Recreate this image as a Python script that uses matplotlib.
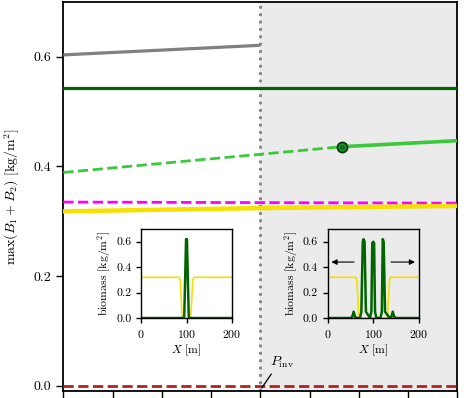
import matplotlib
matplotlib.use("Agg")
import matplotlib.pyplot as plt

plt.rcParams['font.family'] = 'serif'
plt.rcParams['font.serif'] = ['cmr10', 'DejaVu Serif']
plt.rcParams['mathtext.fontset'] = 'cm'
plt.rcParams['axes.formatter.use_mathtext'] = True
plt.rcParams['font.size'] = 10

# ---- main chart data ----
p_inv = 4.0
gray_x = [0, 4]
gray_y = [0.6035, 0.621]
dkgreen_x = [0, 8]
dkgreen_y = [0.543, 0.543]
ltgreen_dash_x = [0, 5.66]
ltgreen_dash_y = [0.389, 0.436]
ltgreen_solid_x = [5.66, 8]
ltgreen_solid_y = [0.436, 0.447]
marker_x = [5.66]
marker_y = [0.436]
magenta_x = [0, 8]
magenta_y = [0.335, 0.333]
yellow_x = [0, 4, 8]
yellow_y = [0.318, 0.324, 0.328]
red_x = [0, 8]
red_y = [0.0, 0.0]
yticks = [0.0, 0.2, 0.4, 0.6]
ytick_labels = ['0.0', '0.2', '0.4', '0.6']
xticks = [0, 1, 2, 3, 4, 5, 6, 7, 8]

# ---- inset 1 profiles ----
in1_yel_x = [0, 84, 86, 88, 90, 92, 108, 110, 112, 114, 117, 200]
in1_yel_y = [0.32, 0.32, 0.30, 0.18, 0.04, 0.0, 0.0, 0.04, 0.18, 0.30, 0.32, 0.32]
in1_grn_x = [0, 92, 95, 97, 99, 101, 103, 105, 108, 200]
in1_grn_y = [0.0, 0.0, 0.01, 0.30, 0.62, 0.62, 0.30, 0.01, 0.0, 0.0]

# ---- inset 2 profiles ----
in2_yel_x = [0, 62, 64, 66, 68, 70, 130, 132, 134, 136, 138, 200]
in2_yel_y = [0.32, 0.32, 0.30, 0.18, 0.04, 0.0, 0.0, 0.04, 0.18, 0.30, 0.32, 0.32]
in2_grn_x = [0, 50, 54, 57, 60, 64, 71, 74, 77, 79, 81, 84, 93, 96, 98, 100, 102, 104, 107,
             116, 119, 121, 123, 126, 136, 140, 143, 146, 150, 200]
in2_grn_y = [0.0, 0.0, 0.01, 0.05, 0.01, 0.0, 0.0, 0.05, 0.60, 0.62, 0.60, 0.05, 0.0, 0.05,
             0.59, 0.60, 0.59, 0.05, 0.0, 0.0, 0.05, 0.62, 0.60, 0.05, 0.0, 0.01, 0.05, 0.01,
             0.0, 0.0]
arrow_y = 0.44
arrow_left = (64, 2)
arrow_right = (133, 198)

fig = plt.figure(figsize=(4.74, 3.98), dpi=100)
ax = fig.add_axes([63.3 / 474, 1 - 391 / 398, 394 / 474, 389 / 398])

ax.axvspan(p_inv, 8, color='#ebebeb', zorder=0, lw=0)
ax.axvline(p_inv, color='#808080', ls=':', lw=2, zorder=1)

ax.plot(gray_x, gray_y, color='#808080', lw=2.3, solid_capstyle='butt', zorder=3)
ax.plot(dkgreen_x, dkgreen_y, color='#006400', lw=2.3, zorder=3)
ax.plot(ltgreen_dash_x, ltgreen_dash_y, color='#3cc83c', lw=2.0, ls='--', zorder=3)
ax.plot(ltgreen_solid_x, ltgreen_solid_y, color='#3cc83c', lw=2.6, zorder=3)
ax.plot(marker_x, marker_y, 'o', ms=7.5, mfc='#11701a', mec='#053305', mew=1.0, zorder=5)
ax.plot(marker_x, marker_y, 'o', ms=4.5, mfc='none', mec='#2a9a2a', mew=0.6, zorder=6)
ax.plot(magenta_x, magenta_y, color='#ff00ff', lw=2.0, ls='--', zorder=3)
ax.plot(yellow_x, yellow_y, color='#f5e000', lw=3.2, zorder=3)
ax.plot(red_x, red_y, color='#b22222', lw=2.0, ls='--', zorder=3)

ax.set_xlim(0, 8)
ax.set_ylim(-0.0097, 0.70)
ax.set_yticks(yticks)
ax.set_yticklabels(ytick_labels)
ax.set_xticks(xticks)
ax.set_xticklabels([])
ax.tick_params(direction='out', length=5, width=1, labelsize=10)
for s in ax.spines.values():
    s.set_linewidth(1.3)
ax.set_ylabel(r'$\max(B_1+B_2)$ [kg/m$^2$]', fontsize=10)
ax.yaxis.set_label_coords(-0.105, 0.5)

ax.annotate('', xy=(p_inv, -0.008), xytext=(4.256, 0.0255),
            arrowprops=dict(arrowstyle='-', color='black', lw=0.9))
ax.text(4.445, 0.043, r'$P_{\rm inv}$', ha='center', va='center', fontsize=10)

def make_inset(pos, yx, yy, gx, gy):
    a = fig.add_axes(pos)
    a.set_facecolor('none')
    a.plot(yx, yy, color='#f5e000', lw=1.2)
    a.plot(gx, gy, color='#006400', lw=1.8)
    a.set_xlim(0, 200)
    a.set_ylim(0, 0.70)
    a.set_xticks([0, 100, 200])
    a.set_yticks([0.0, 0.2, 0.4, 0.6])
    a.set_yticklabels(['0.0', '0.2', '0.4', '0.6'])
    a.tick_params(direction='out', length=3.5, width=1, labelsize=8.5)
    for s in a.spines.values():
        s.set_linewidth(1.0)
    a.set_xlabel(r'$X$ [m]', labelpad=2, fontsize=8.5)
    a.set_ylabel(r'biomass [kg/m$^2$]', labelpad=2, fontsize=8.5)
    return a

in1 = make_inset([141 / 474, 1 - 318 / 398, 91 / 474, 89 / 398],
                 in1_yel_x, in1_yel_y, in1_grn_x, in1_grn_y)
in2 = make_inset([327.7 / 474, 1 - 318 / 398, 91 / 474, 89 / 398],
                 in2_yel_x, in2_yel_y, in2_grn_x, in2_grn_y)
in2.annotate('', xy=(arrow_left[1], arrow_y), xytext=(arrow_left[0], arrow_y),
             arrowprops=dict(arrowstyle='-|>', color='black', lw=0.8, mutation_scale=8))
in2.annotate('', xy=(arrow_right[1], arrow_y), xytext=(arrow_right[0], arrow_y),
             arrowprops=dict(arrowstyle='-|>', color='black', lw=0.8, mutation_scale=8))

fig.savefig('out.png', dpi=100)
